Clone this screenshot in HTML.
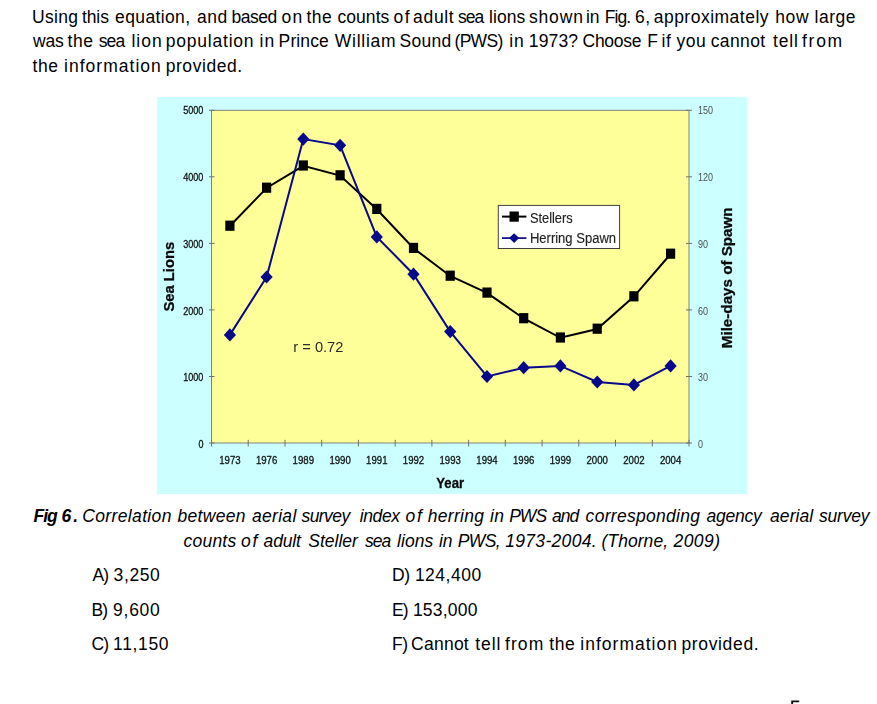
<!DOCTYPE html>
<html lang="en">
<head>
<meta charset="utf-8">
<title>Fig 6 question</title>
<style>
html,body{margin:0;padding:0;background:#fff;}
body{width:877px;height:704px;position:relative;overflow:hidden;font-family:"Liberation Sans",sans-serif;color:#000;}
.ln{position:absolute;left:0;width:877px;height:22px;white-space:nowrap;font-size:17.5px;line-height:normal;color:#000;}
.ln span{position:absolute;top:0;white-space:nowrap;}
svg.chart{position:absolute;left:0;top:0;}
svg.chart text{font-family:"Liberation Sans",sans-serif;}
.cg{filter:blur(0.45px);}
.yl{font-size:10.1px;fill:#111;stroke:#111;stroke-width:0.28px;}
.yr{font-size:10.3px;fill:#4a5050;}
.lg{font-size:15.2px;fill:#222;stroke:#222;stroke-width:0.15px;}
.rr{font-size:14.4px;fill:#2a2a2a;}
.ti{font-size:15.2px;font-weight:bold;fill:#0a0a0a;stroke:#0a0a0a;stroke-width:0.3px;}
.tx{font-size:14.6px;}
</style>
</head>
<body>
<svg class="chart" width="877" height="704" viewBox="0 0 877 704">
<rect x="157" y="97" width="590" height="397" fill="#ccffff"/>
<g class="cg">
<rect x="211.5" y="110.3" width="477.5" height="332.7" fill="#ffff99" stroke="#808080" stroke-width="1"/>
<path d="M209.0 443.0H214.5M686.0 443.0H692.0M209.0 376.5H214.5M686.0 376.5H692.0M209.0 309.9H214.5M686.0 309.9H692.0M209.0 243.4H214.5M686.0 243.4H692.0M209.0 176.8H214.5M686.0 176.8H692.0M209.0 110.3H214.5M686.0 110.3H692.0M211.5 439.8V446.5M248.2 439.8V446.5M285.0 439.8V446.5M321.7 439.8V446.5M358.4 439.8V446.5M395.2 439.8V446.5M431.9 439.8V446.5M468.6 439.8V446.5M505.3 439.8V446.5M542.1 439.8V446.5M578.8 439.8V446.5M615.5 439.8V446.5M652.3 439.8V446.5M689.0 439.8V446.5" stroke="#707070" stroke-width="1" fill="none"/>
<text x="203.4" y="448.1" text-anchor="end" class="yl" textLength="5.0" lengthAdjust="spacingAndGlyphs">0</text>
<text x="203.4" y="381.3" text-anchor="end" class="yl" textLength="20.2" lengthAdjust="spacingAndGlyphs">1000</text>
<text x="203.4" y="314.5" text-anchor="end" class="yl" textLength="20.2" lengthAdjust="spacingAndGlyphs">2000</text>
<text x="203.4" y="247.8" text-anchor="end" class="yl" textLength="20.2" lengthAdjust="spacingAndGlyphs">3000</text>
<text x="203.4" y="181.0" text-anchor="end" class="yl" textLength="20.2" lengthAdjust="spacingAndGlyphs">4000</text>
<text x="203.4" y="114.2" text-anchor="end" class="yl" textLength="20.2" lengthAdjust="spacingAndGlyphs">5000</text>
<text x="697.9" y="448.2" class="yr" textLength="5.0" lengthAdjust="spacingAndGlyphs">0</text>
<text x="697.9" y="381.4" class="yr" textLength="10.0" lengthAdjust="spacingAndGlyphs">30</text>
<text x="697.9" y="314.6" class="yr" textLength="10.0" lengthAdjust="spacingAndGlyphs">60</text>
<text x="697.9" y="247.8" class="yr" textLength="10.0" lengthAdjust="spacingAndGlyphs">90</text>
<text x="697.9" y="181.0" class="yr" textLength="15.0" lengthAdjust="spacingAndGlyphs">120</text>
<text x="697.9" y="114.2" class="yr" textLength="15.0" lengthAdjust="spacingAndGlyphs">150</text>
<text x="229.9" y="463.7" text-anchor="middle" class="yl" textLength="21.4" lengthAdjust="spacingAndGlyphs">1973</text>
<text x="266.6" y="463.7" text-anchor="middle" class="yl" textLength="21.4" lengthAdjust="spacingAndGlyphs">1976</text>
<text x="303.3" y="463.7" text-anchor="middle" class="yl" textLength="21.4" lengthAdjust="spacingAndGlyphs">1989</text>
<text x="340.1" y="463.7" text-anchor="middle" class="yl" textLength="21.4" lengthAdjust="spacingAndGlyphs">1990</text>
<text x="376.8" y="463.7" text-anchor="middle" class="yl" textLength="21.4" lengthAdjust="spacingAndGlyphs">1991</text>
<text x="413.5" y="463.7" text-anchor="middle" class="yl" textLength="21.4" lengthAdjust="spacingAndGlyphs">1992</text>
<text x="450.2" y="463.7" text-anchor="middle" class="yl" textLength="21.4" lengthAdjust="spacingAndGlyphs">1993</text>
<text x="487.0" y="463.7" text-anchor="middle" class="yl" textLength="21.4" lengthAdjust="spacingAndGlyphs">1994</text>
<text x="523.7" y="463.7" text-anchor="middle" class="yl" textLength="21.4" lengthAdjust="spacingAndGlyphs">1996</text>
<text x="560.4" y="463.7" text-anchor="middle" class="yl" textLength="21.4" lengthAdjust="spacingAndGlyphs">1999</text>
<text x="597.2" y="463.7" text-anchor="middle" class="yl" textLength="21.4" lengthAdjust="spacingAndGlyphs">2000</text>
<text x="633.9" y="463.7" text-anchor="middle" class="yl" textLength="21.4" lengthAdjust="spacingAndGlyphs">2002</text>
<text x="670.6" y="463.7" text-anchor="middle" class="yl" textLength="21.4" lengthAdjust="spacingAndGlyphs">2004</text>
<polyline points="229.9,226.0 266.6,188.0 303.3,165.8 340.1,175.6 376.8,209.2 413.5,248.2 450.2,276.0 487.0,292.9 523.7,318.5 560.4,337.8 597.2,329.0 633.9,296.6 670.6,254.0" fill="none" stroke="#000" stroke-width="2"/>
<polyline points="229.9,334.9 266.6,277.0 303.3,139.1 340.1,145.3 376.8,236.9 413.5,274.2 450.2,331.6 487.0,376.5 523.7,367.7 560.4,365.9 597.2,382.0 633.9,384.9 670.6,365.9" fill="none" stroke="#08088a" stroke-width="2"/>
<rect x="225.3" y="220.6" width="9.2" height="10.2" fill="#000"/>
<rect x="262.0" y="182.6" width="9.2" height="10.2" fill="#000"/>
<rect x="298.7" y="160.4" width="9.2" height="10.2" fill="#000"/>
<rect x="335.5" y="170.2" width="9.2" height="10.2" fill="#000"/>
<rect x="372.2" y="203.8" width="9.2" height="10.2" fill="#000"/>
<rect x="408.9" y="242.8" width="9.2" height="10.2" fill="#000"/>
<rect x="445.6" y="270.6" width="9.2" height="10.2" fill="#000"/>
<rect x="482.4" y="287.5" width="9.2" height="10.2" fill="#000"/>
<rect x="519.1" y="313.1" width="9.2" height="10.2" fill="#000"/>
<rect x="555.8" y="332.4" width="9.2" height="10.2" fill="#000"/>
<rect x="592.6" y="323.6" width="9.2" height="10.2" fill="#000"/>
<rect x="629.3" y="291.2" width="9.2" height="10.2" fill="#000"/>
<rect x="666.0" y="248.6" width="9.2" height="10.2" fill="#000"/>
<path d="M229.9 328.3L236.0 334.9L229.9 341.5L223.8 334.9Z" fill="#08088a"/>
<path d="M266.6 270.4L272.7 277.0L266.6 283.6L260.5 277.0Z" fill="#08088a"/>
<path d="M303.3 132.5L309.4 139.1L303.3 145.7L297.2 139.1Z" fill="#08088a"/>
<path d="M340.1 138.7L346.2 145.3L340.1 151.9L334.0 145.3Z" fill="#08088a"/>
<path d="M376.8 230.3L382.9 236.9L376.8 243.5L370.7 236.9Z" fill="#08088a"/>
<path d="M413.5 267.6L419.6 274.2L413.5 280.8L407.4 274.2Z" fill="#08088a"/>
<path d="M450.2 325.0L456.4 331.6L450.2 338.2L444.1 331.6Z" fill="#08088a"/>
<path d="M487.0 369.9L493.1 376.5L487.0 383.1L480.9 376.5Z" fill="#08088a"/>
<path d="M523.7 361.1L529.8 367.7L523.7 374.3L517.6 367.7Z" fill="#08088a"/>
<path d="M560.4 359.3L566.5 365.9L560.4 372.5L554.3 365.9Z" fill="#08088a"/>
<path d="M597.2 375.4L603.3 382.0L597.2 388.6L591.1 382.0Z" fill="#08088a"/>
<path d="M633.9 378.3L640.0 384.9L633.9 391.5L627.8 384.9Z" fill="#08088a"/>
<path d="M670.6 359.3L676.7 365.9L670.6 372.5L664.5 365.9Z" fill="#08088a"/>
<rect x="498.3" y="205.4" width="121.3" height="43.1" fill="#fff" stroke="#404040" stroke-width="1"/>
<path d="M502 216.6H526.4" stroke="#000" stroke-width="2"/>
<rect x="509.5" y="211.5" width="9.3" height="10.2" fill="#000"/>
<path d="M502 238.1H526.4" stroke="#08088a" stroke-width="1.7"/>
<path d="M514.1 233.2L519.1 238.1L514.1 243.1L509.1 238.1Z" fill="#08088a"/>
<text x="529.9" y="222.7" class="lg" textLength="42.8" lengthAdjust="spacingAndGlyphs">Stellers</text>
<text x="529.9" y="243.2" class="lg" textLength="86.2" lengthAdjust="spacingAndGlyphs">Herring Spawn</text>
<text x="293.3" y="352.4" class="rr" textLength="50.1" lengthAdjust="spacingAndGlyphs">r = 0.72</text>
<text x="436.3" y="488.1" class="ti tx" textLength="27.8" lengthAdjust="spacingAndGlyphs">Year</text>
<text transform="translate(173.9 311.5) rotate(-90)" class="ti" textLength="69.7" lengthAdjust="spacingAndGlyphs">Sea Lions</text>
<text transform="translate(731.8 348.2) rotate(-90)" class="ti" textLength="140.8" lengthAdjust="spacingAndGlyphs">Mile-days of Spawn</text>
</g>
<path d="M791.2 700.4H799.2V702.2H793.1V704H791.2Z" fill="#111"/>
</svg>
<div class="ln" style="top:7.16px;"><span style="left:32.0px;letter-spacing:0.30px">Using</span> <span style="left:81.9px;letter-spacing:-0.07px">this</span> <span style="left:115.1px;letter-spacing:0.37px">equation,</span> <span style="left:196.9px;letter-spacing:0.60px">and</span> <span style="left:231.4px;letter-spacing:-0.45px">based</span> <span style="left:281.5px;letter-spacing:1.20px">on</span> <span style="left:306.4px;letter-spacing:0.55px">the</span> <span style="left:337.4px;letter-spacing:0.08px">counts</span> <span style="left:393.5px;letter-spacing:1.60px">of</span> <span style="left:413.1px;letter-spacing:0.67px">adult</span> <span style="left:458.0px;letter-spacing:-1.00px">sea</span> <span style="left:489.1px;letter-spacing:0.03px">lions</span> <span style="left:529.0px;letter-spacing:0.82px">shown</span> <span style="left:585.9px;letter-spacing:0.00px">in</span> <span style="left:604.8px;letter-spacing:-0.93px">Fig.</span> <span style="left:635.1px;letter-spacing:0.30px">6,</span> <span style="left:653.7px;letter-spacing:0.49px">approximately</span> <span style="left:775.2px;letter-spacing:0.69px">how</span> <span style="left:814.6px;letter-spacing:0.50px">large</span></div>
<div class="ln" style="top:30.96px;"><span style="left:33.0px;letter-spacing:-0.23px">was</span> <span style="left:67.6px;letter-spacing:0.51px">the</span> <span style="left:98.7px;letter-spacing:-0.89px">sea</span> <span style="left:131.4px;letter-spacing:1.03px">lion</span> <span style="left:165.7px;letter-spacing:0.79px">population</span> <span style="left:259.6px;letter-spacing:1.02px">in</span> <span style="left:278.6px;letter-spacing:0.11px">Prince</span> <span style="left:334.8px;letter-spacing:0.73px">William</span> <span style="left:399.6px;letter-spacing:0.25px">Sound</span> <span style="left:454.5px;letter-spacing:-0.70px">(PWS)</span> <span style="left:509.2px;letter-spacing:1.02px">in</span> <span style="left:528.8px;letter-spacing:0.14px">1973?</span> <span style="left:582.5px;letter-spacing:-0.25px">Choose</span> <span style="left:647.2px;letter-spacing:0.00px">F</span> <span style="left:661.6px;letter-spacing:0.64px">if</span> <span style="left:676.6px;letter-spacing:0.48px">you</span> <span style="left:710.7px;letter-spacing:0.40px">cannot</span> <span style="left:772.9px;letter-spacing:0.90px">tell</span> <span style="left:802.0px;letter-spacing:1.73px">from</span></div>
<div class="ln" style="top:55.66px;"><span style="left:32.6px;letter-spacing:0.51px">the</span> <span style="left:64.1px;letter-spacing:1.01px">information</span> <span style="left:165.7px;letter-spacing:0.56px">provided.</span></div>
<div class="ln" style="top:505.96px;font-style:italic;font-weight:bold;"><span style="left:33.5px;letter-spacing:-1.00px">Fig</span> <span style="left:61.6px;letter-spacing:1.80px">6.</span></div>
<div class="ln" style="top:505.96px;font-style:italic;"><span style="left:82.3px;letter-spacing:0.35px">Correlation</span> <span style="left:177.4px;letter-spacing:0.32px">between</span> <span style="left:251.9px;letter-spacing:0.32px">aerial</span> <span style="left:301.5px;letter-spacing:-0.58px">survey</span> <span style="left:359.8px;letter-spacing:-0.40px">index</span> <span style="left:405.5px;letter-spacing:1.80px">of</span> <span style="left:427.8px;letter-spacing:0.30px">herring</span> <span style="left:490.1px;letter-spacing:0.20px">in</span> <span style="left:509.2px;letter-spacing:-1.00px">PWS</span> <span style="left:551.9px;letter-spacing:-0.95px">and</span> <span style="left:585.6px;letter-spacing:0.29px">corresponding</span> <span style="left:706.4px;letter-spacing:-0.20px">agency</span> <span style="left:770.1px;letter-spacing:0.04px">aerial</span> <span style="left:819.1px;letter-spacing:-0.24px">survey</span></div>
<div class="ln" style="top:530.56px;font-style:italic;"><span style="left:183.6px;letter-spacing:0.20px">counts</span> <span style="left:241.0px;letter-spacing:1.80px">of</span> <span style="left:263.6px;letter-spacing:-0.18px">adult</span> <span style="left:308.2px;letter-spacing:0.02px">Steller</span> <span style="left:365.0px;letter-spacing:-1.00px">sea</span> <span style="left:397.1px;letter-spacing:0.02px">lions</span> <span style="left:438.9px;letter-spacing:0.00px">in</span> <span style="left:457.7px;letter-spacing:-0.60px">PWS,</span> <span style="left:505.2px;letter-spacing:0.32px">1973-2004.</span> <span style="left:601.5px;letter-spacing:0.06px">(Thorne,</span> <span style="left:673.5px;letter-spacing:0.43px">2009)</span></div>
<div class="ln" style="top:564.96px;"><span style="left:92.5px;letter-spacing:-1.00px">A)</span> <span style="left:113.6px;letter-spacing:0.60px">3,250</span></div>
<div class="ln" style="top:600.16px;"><span style="left:91.5px;letter-spacing:-0.90px">B)</span> <span style="left:113.1px;letter-spacing:0.73px">9,600</span></div>
<div class="ln" style="top:634.06px;"><span style="left:91.5px;letter-spacing:-1.00px">C)</span> <span style="left:113.1px;letter-spacing:0.64px">11,150</span></div>
<div class="ln" style="top:564.96px;"><span style="left:392.0px;letter-spacing:-0.40px">D)</span> <span style="left:414.9px;letter-spacing:0.50px">124,400</span></div>
<div class="ln" style="top:600.16px;"><span style="left:392.0px;letter-spacing:-1.00px">E)</span> <span style="left:412.9px;letter-spacing:0.23px">153,000</span></div>
<div class="ln" style="top:634.16px;"><span style="left:392.0px;letter-spacing:-0.40px">F)</span> <span style="left:411.1px;letter-spacing:0.24px">Cannot</span> <span style="left:475.3px;letter-spacing:0.90px">tell</span> <span style="left:504.9px;letter-spacing:1.13px">from</span> <span style="left:549.3px;letter-spacing:0.51px">the</span> <span style="left:580.3px;letter-spacing:1.01px">information</span> <span style="left:681.4px;letter-spacing:0.66px">provided.</span></div>
</body>
</html>
